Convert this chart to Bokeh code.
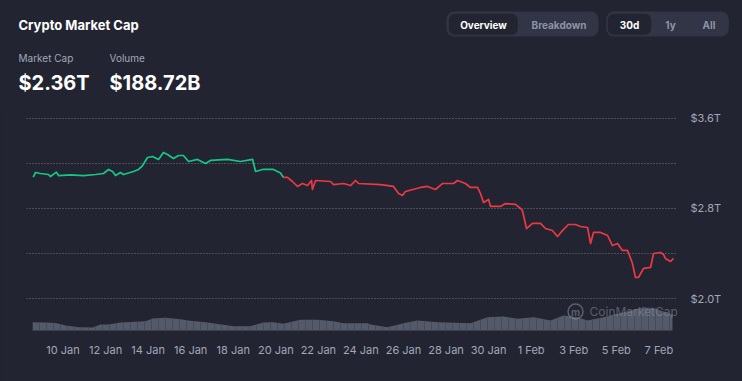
from bokeh.plotting import figure
from bokeh.models import Range1d, FixedTicker
from bokeh.embed import file_html
from bokeh.resources import INLINE
from bokeh.core.properties import value

# ---------------- data (days counted from 10 Jan, market cap in $T, volume in $B) ----------------
cap_days = [-1.40, -1.29, -1.06, -0.68, -0.59, -0.31, -0.21, 0.35, 0.96, 1.53,
            1.90, 2.14, 2.33, 2.47, 2.70, 2.84, 3.31, 3.55, 3.74, 3.97,
            4.21, 4.49, 4.72, 4.91, 5.19, 5.43, 5.66, 5.90, 6.32, 6.70,
            6.93, 7.73, 8.34, 8.91, 9.05, 9.38, 9.89, 10.22, 10.36, 10.55,
            10.78, 11.02, 11.25, 11.49, 11.68, 11.72, 11.87, 12.57, 12.71, 13.18,
            13.51, 13.75, 13.89, 14.92, 15.53, 15.77, 15.95, 16.09, 16.80, 17.13,
            17.50, 17.83, 18.35, 18.54, 18.91, 19.15, 19.48, 19.62, 19.76, 20.00,
            20.09, 20.56, 20.79, 21.26, 21.50, 21.59, 21.78, 22.06, 22.44, 22.67,
            23.00, 23.24, 23.47, 23.75, 24.08, 24.32, 24.65, 24.79, 24.93, 25.26,
            25.59, 25.82, 26.06, 26.29, 26.53, 26.76, 26.90, 27.04, 27.28, 27.61,
            27.75, 28.08, 28.22, 28.31, 28.55, 28.69]
cap_values = [3.078, 3.120, 3.111, 3.102, 3.084, 3.123, 3.093, 3.098, 3.093, 3.102,
              3.111, 3.147, 3.129, 3.093, 3.120, 3.102, 3.129, 3.147, 3.182, 3.253,
              3.262, 3.236, 3.298, 3.280, 3.244, 3.271, 3.271, 3.218, 3.236, 3.200,
              3.227, 3.236, 3.218, 3.236, 3.129, 3.147, 3.147, 3.116, 3.076, 3.076,
              3.040, 2.996, 3.022, 3.004, 3.049, 2.969, 3.049, 3.040, 3.013, 3.022,
              3.004, 3.049, 3.022, 3.013, 2.996, 2.933, 2.916, 2.951, 2.987, 2.996,
              2.969, 3.022, 3.022, 3.049, 3.022, 2.987, 2.987, 2.933, 2.853, 2.880,
              2.818, 2.818, 2.844, 2.836, 2.800, 2.782, 2.622, 2.667, 2.667, 2.622,
              2.604, 2.551, 2.604, 2.658, 2.658, 2.640, 2.631, 2.489, 2.587, 2.587,
              2.560, 2.471, 2.489, 2.427, 2.427, 2.311, 2.187, 2.187, 2.267, 2.276,
              2.400, 2.409, 2.391, 2.356, 2.329, 2.356]

vol_days = [-1.42, -0.82, -0.35, 0.12, 0.73, 1.39, 1.76, 2.14, 2.70, 2.94,
            3.88, 4.21, 4.82, 5.62, 5.86, 6.79, 8.01, 8.81, 9.42, 9.89,
            10.36, 11.16, 11.96, 12.71, 13.18, 14.31, 14.45, 15.25, 16.00, 16.66,
            17.60, 19.15, 19.95, 20.70, 21.36, 22.12, 22.91, 23.52, 24.18, 24.65,
            25.40, 26.34, 27.28, 27.84, 28.08, 28.64]
vol_values = [100, 96, 90, 60, 40, 36, 72, 72, 96, 100,
              112, 144, 152, 132, 120, 96, 52, 52, 96, 100,
              80, 128, 128, 112, 88, 88, 72, 40, 88, 120,
              100, 88, 160, 168, 140, 160, 120, 180, 160, 120,
              160, 220, 280, 264, 240, 189]

x_ticks = [0, 2, 4, 6, 8, 10, 12, 14, 16, 18, 20, 22, 24, 26, 28]
x_tick_labels = ["10 Jan", "12 Jan", "14 Jan", "16 Jan", "18 Jan", "20 Jan", "22 Jan",
                 "24 Jan", "26 Jan", "28 Jan", "30 Jan", "1 Feb", "3 Feb", "5 Feb", "7 Feb"]
y_ticks = [2.0, 2.4, 2.8, 3.2, 3.6]
y_tick_labels = ["$2.0T", "", "$2.8T", "", "$3.6T"]

title_text = "Crypto Market Cap"
kpi_labels = ["Market Cap", "Volume"]
kpi_values = ["$2.36T", "$188.72B"]
tab_group1 = ["Overview", "Breakdown"]
tab_group2 = ["30d", "1y", "All"]

# ---------------- style ----------------
BG = "#222531"
PANEL = "#323546"
GREY = "#a1a7bb"
DIM = "#8d93a6"
GREEN = "#16c784"
RED = "#ea3943"
FONT = value("Inter")

# ---------------- header (its own root, page pixel coordinates) ----------------
hdr = figure(width=742, height=108, x_range=Range1d(0, 742), y_range=Range1d(108, 0),
             output_backend="svg", toolbar_location=None, min_border=0)
hdr.axis.visible = False
hdr.grid.visible = False
hdr.outline_line_color = None
hdr.background_fill_color = BG
hdr.border_fill_color = BG

hdr.text(x=[18], y=[24], text=[title_text], text_font=FONT, text_font_size="13px",
         text_font_style="bold", text_color="white", text_baseline="middle")
hdr.text(x=[18, 109], y=[57, 57], text=kpi_labels, text_font=FONT, text_font_size="10px",
         text_color=GREY, text_baseline="middle")
hdr.text(x=[18, 109], y=[82, 82], text=kpi_values, text_font=FONT, text_font_size="20px",
         text_font_style="bold", text_color="white", text_baseline="middle")

hdr.quad(left=[446, 605.7], right=[598, 728.3], top=[11, 11], bottom=[36, 36],
         fill_color=PANEL, line_color=None, border_radius=8)
hdr.quad(left=[448.3, 607.3], right=[517.3, 650.7], top=[13.3, 13.3], bottom=[34.3, 34.3],
         fill_color=BG, line_color=None, border_radius=6)
hdr.text(x=[483, 558.5], y=[24, 24], text=tab_group1, text_font=FONT, text_font_size="10px",
         text_font_style="bold", text_color=["white", DIM], text_align="center",
         text_baseline="middle")
hdr.text(x=[629, 670, 708.5], y=[24, 24, 24], text=tab_group2, text_font=FONT,
         text_font_size="10px", text_font_style="bold",
         text_color=["white", DIM, DIM], text_align="center", text_baseline="middle")

# ---------------- chart ----------------
p = figure(width=742, height=273, x_range=Range1d(-1.715, 28.876),
           y_range=Range1d(1.7067, 3.6533), y_axis_location="right",
           output_backend="svg", toolbar_location=None,
           min_border_left=26, min_border_right=65, min_border_top=4, min_border_bottom=50)
p.background_fill_color = BG
p.border_fill_color = BG
p.outline_line_color = None
p.xgrid.visible = False
p.ygrid.grid_line_color = "#737888"
p.ygrid.grid_line_dash = "1 2"
p.ygrid.grid_line_width = 1

p.extra_y_ranges = {"vol": Range1d(-12, 2616)}

for ax in (p.xaxis[0], p.yaxis[0]):
    ax.axis_line_color = None
    ax.major_tick_line_color = None
    ax.minor_tick_line_color = None
    ax.major_tick_out = 0
    ax.major_tick_in = 0
    ax.minor_tick_out = 0
    ax.major_label_text_color = GREY
    ax.major_label_text_font = "Inter"
    ax.major_label_text_font_size = "11px"

p.xaxis.ticker = FixedTicker(ticks=x_ticks)
p.xaxis.major_label_overrides = dict(zip(x_ticks, x_tick_labels))
p.xaxis.major_label_standoff = 11
p.yaxis.ticker = FixedTicker(ticks=y_ticks)
p.yaxis.major_label_overrides = dict(zip(y_ticks, y_tick_labels))
p.yaxis.major_label_standoff = 13

# volume area
p.varea(x=vol_days, y1=[0] * len(vol_values), y2=vol_values, y_range_name="vol",
        fill_color="#555a6a", hatch_pattern="vertical_line", hatch_color="#464a59",
        hatch_scale=7, hatch_weight=1)

# price line coloured against the first value
base = cap_values[0]
xs_runs, ys_runs, cols = [], [], []
cur_col = None
for i in range(len(cap_values) - 1):
    c = GREEN if (cap_values[i] + cap_values[i + 1]) / 2 >= base else RED
    if c != cur_col:
        xs_runs.append([cap_days[i]])
        ys_runs.append([cap_values[i]])
        cols.append(c)
        cur_col = c
    xs_runs[-1].append(cap_days[i + 1])
    ys_runs[-1].append(cap_values[i + 1])
p.multi_line(xs=xs_runs, ys=ys_runs, line_color=cols, line_width=1.7, line_join="round")

# watermark
wm_x = -1.715 + (589 - 26) / 21.28
wm_y = 3.6533 - (311 - 112) / 112.5
p.text(x=[wm_x], y=[wm_y], text=["CoinMarketCap"], text_font=FONT, text_font_size="12px",
       text_color="#8a8fa0", text_alpha=0.55, text_baseline="middle")
logo_x = -1.715 + (575 - 26) / 21.28
p.scatter(x=[logo_x], y=[wm_y], size=15, fill_color=None, line_color="#8a8fa0",
          line_alpha=0.55, line_width=1.5)
p.text(x=[logo_x], y=[wm_y], text=["m"], text_font=FONT, text_font_size="10px",
       text_font_style="bold", text_color="#8a8fa0", text_alpha=0.55,
       text_align="center", text_baseline="middle")

html = file_html([hdr, p], INLINE)
html = html.replace("</head>", "<style>body{background:#222531;}</style></head>", 1)
open("out.html", "w").write(html)
